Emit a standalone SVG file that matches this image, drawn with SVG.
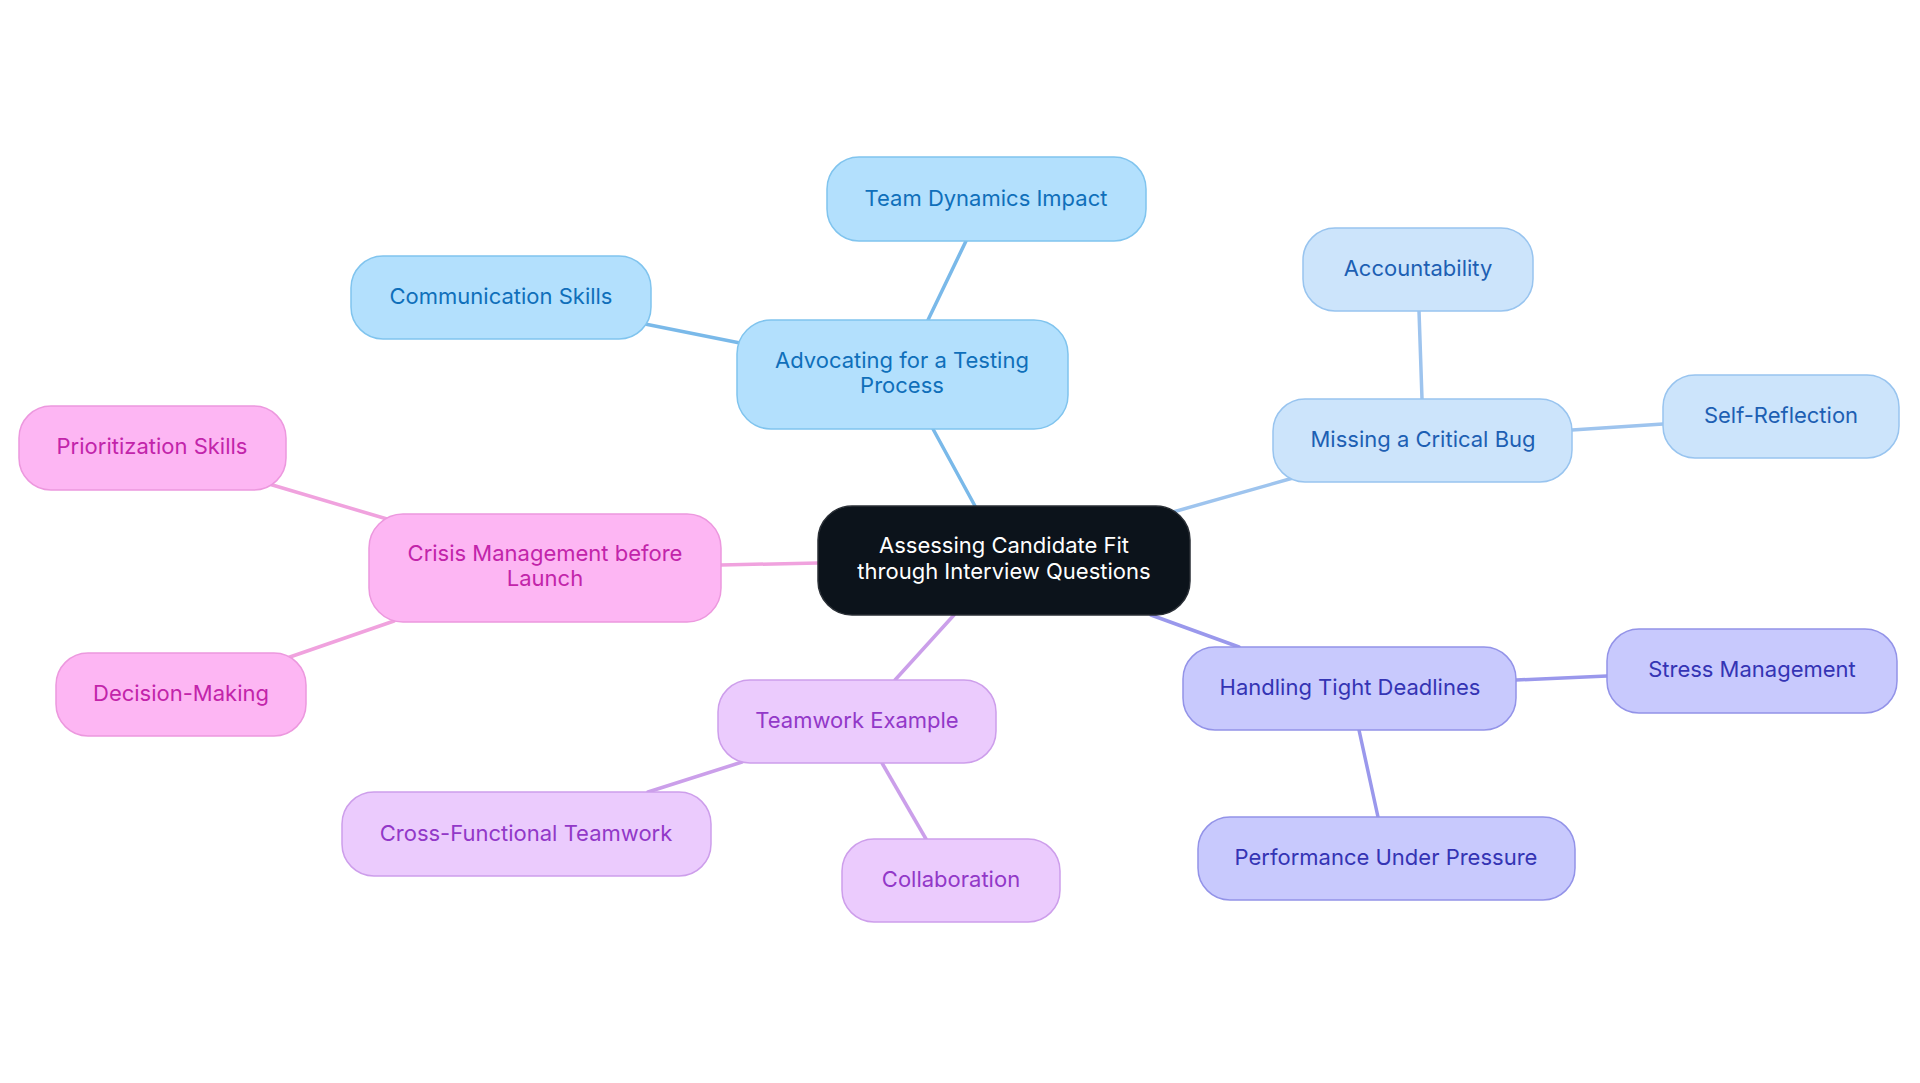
<svg xmlns="http://www.w3.org/2000/svg" width="1920" height="1083" viewBox="0 0 1920 1083">
<style>
text{font-family:Inter,"Noto Sans","Liberation Sans",sans-serif;font-size:22px;text-anchor:middle;dominant-baseline:central}
.c line{stroke-width:3.5;stroke-linecap:round}
.root rect{fill:#0c131b;stroke:#2a2f36;stroke-width:1.5}
.root text{fill:#ffffff}
.b1 rect{fill:#b3e0fd;stroke:#80c4ee;stroke-width:1.5}
.b1 text{fill:#0f6fba}
.b2 rect{fill:#cce4fb;stroke:#98c4ef;stroke-width:1.5}
.b2 text{fill:#1d5fb3}
.b3 rect{fill:#c8c9fd;stroke:#9393e8;stroke-width:1.5}
.b3 text{fill:#3434b4}
.b4 rect{fill:#ebcbfd;stroke:#cd9eeb;stroke-width:1.5}
.b4 text{fill:#9238c8}
.b5 rect{fill:#fdb6f3;stroke:#ec98de;stroke-width:1.5}
.b5 text{fill:#c224aa}
</style>
<rect width="1920" height="1083" fill="#ffffff"/>
<g id="connectors" class="c">
<line x1="975" y1="506" x2="933" y2="429" stroke="#7ab9e9"/>
<line x1="928" y1="320" x2="966" y2="241" stroke="#7ab9e9"/>
<line x1="740" y1="343" x2="645" y2="324" stroke="#7ab9e9"/>
<line x1="1173" y1="512" x2="1293" y2="478" stroke="#9ec4ee"/>
<line x1="1422" y1="399" x2="1419" y2="311" stroke="#9ec4ee"/>
<line x1="1572" y1="430" x2="1663" y2="424" stroke="#9ec4ee"/>
<line x1="1151" y1="615" x2="1239" y2="647" stroke="#9a98ec"/>
<line x1="1516" y1="680" x2="1607" y2="676" stroke="#9a98ec"/>
<line x1="1359" y1="730" x2="1378" y2="817" stroke="#9a98ec"/>
<line x1="954" y1="615" x2="895" y2="680" stroke="#cb9fea"/>
<line x1="742" y1="762" x2="648" y2="792" stroke="#cb9fea"/>
<line x1="882" y1="763" x2="926" y2="839" stroke="#cb9fea"/>
<line x1="818" y1="563" x2="721" y2="565" stroke="#f0a2de"/>
<line x1="387" y1="519" x2="269" y2="484" stroke="#f0a2de"/>
<line x1="394" y1="621" x2="287" y2="658" stroke="#f0a2de"/>
</g>
<g id="root" class="root"><rect x="818" y="506" width="372" height="109" rx="34"/><text x="1004" y="545">Assessing Candidate Fit</text><text x="1004" y="571">through Interview Questions</text></g>
<g id="advocating" class="b1"><rect x="737" y="320" width="331" height="109" rx="34"/><text x="902" y="360">Advocating for a Testing</text><text x="902" y="385">Process</text></g>
<g id="team-dynamics" class="b1"><rect x="827" y="157" width="319" height="84" rx="32"/><text x="986" y="198">Team Dynamics Impact</text></g>
<g id="communication" class="b1"><rect x="351" y="256" width="300" height="83" rx="32"/><text x="501" y="296">Communication Skills</text></g>
<g id="missing-bug" class="b2"><rect x="1273" y="399" width="299" height="83" rx="32"/><text x="1423" y="439">Missing a Critical Bug</text></g>
<g id="accountability" class="b2"><rect x="1303" y="228" width="230" height="83" rx="32"/><text x="1418" y="268">Accountability</text></g>
<g id="self-reflection" class="b2"><rect x="1663" y="375" width="236" height="83" rx="32"/><text x="1781" y="415">Self-Reflection</text></g>
<g id="deadlines" class="b3"><rect x="1183" y="647" width="333" height="83" rx="32"/><text x="1350" y="687">Handling Tight Deadlines</text></g>
<g id="stress" class="b3"><rect x="1607" y="629" width="290" height="84" rx="32"/><text x="1752" y="669">Stress Management</text></g>
<g id="performance" class="b3"><rect x="1198" y="817" width="377" height="83" rx="32"/><text x="1386" y="857">Performance Under Pressure</text></g>
<g id="teamwork" class="b4"><rect x="718" y="680" width="278" height="83" rx="32"/><text x="857" y="720">Teamwork Example</text></g>
<g id="cross-functional" class="b4"><rect x="342" y="792" width="369" height="84" rx="32"/><text x="526" y="833">Cross-Functional Teamwork</text></g>
<g id="collaboration" class="b4"><rect x="842" y="839" width="218" height="83" rx="32"/><text x="951" y="879">Collaboration</text></g>
<g id="crisis" class="b5"><rect x="369" y="514" width="352" height="108" rx="34"/><text x="545" y="553">Crisis Management before</text><text x="545" y="578">Launch</text></g>
<g id="prioritization" class="b5"><rect x="19" y="406" width="267" height="84" rx="32"/><text x="152" y="446">Prioritization Skills</text></g>
<g id="decision" class="b5"><rect x="56" y="653" width="250" height="83" rx="32"/><text x="181" y="693">Decision-Making</text></g>
</svg>
